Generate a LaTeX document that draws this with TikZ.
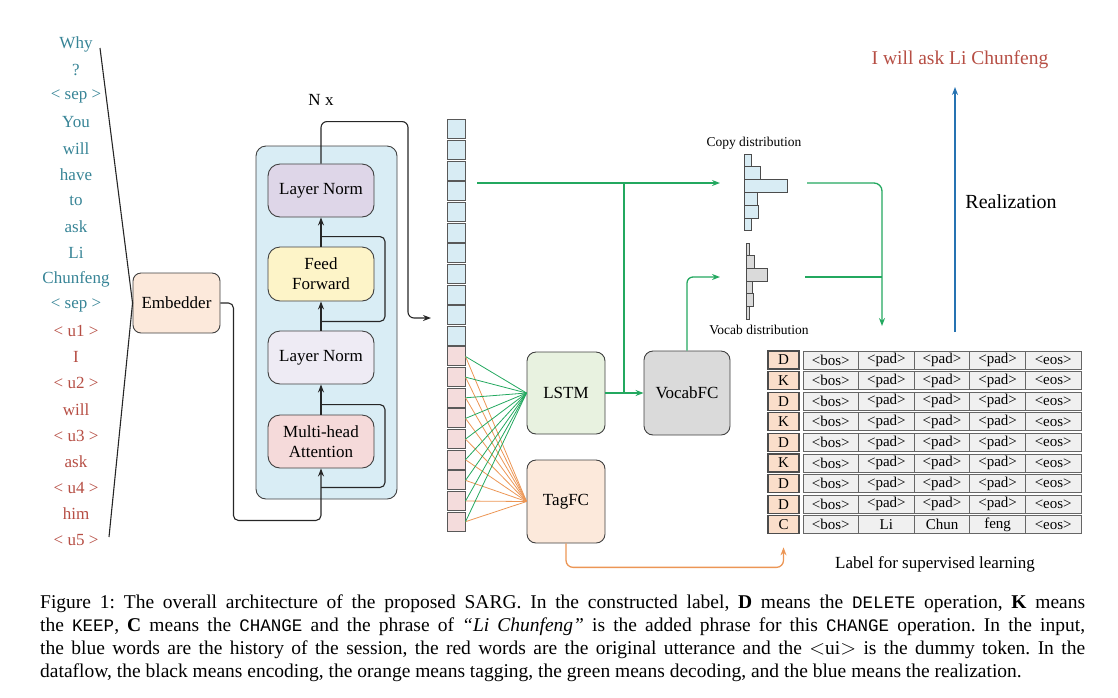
\documentclass[tikz,border=0pt]{standalone}
\usepackage{fontspec}
\setmainfont{Liberation Serif}
\setmonofont{Liberation Mono}[Scale=0.9]
\usepackage{xcolor}
\usepackage{tikz}
\usetikzlibrary{arrows.meta,positioning,calc}
\definecolor{histcol}{RGB}{55,132,150}
\definecolor{uttcol}{RGB}{182,78,68}
\definecolor{decgreen}{RGB}{35,168,95}
\definecolor{tagorange}{RGB}{236,150,85}
\definecolor{realblue}{RGB}{38,115,178}
\definecolor{embfill}{RGB}{252,233,219}
\definecolor{encfill}{RGB}{217,237,245}
\definecolor{lntopfill}{RGB}{222,214,232}
\definecolor{fffill}{RGB}{253,244,200}
\definecolor{lnfill}{RGB}{238,235,244}
\definecolor{mhafill}{RGB}{245,218,218}
\definecolor{lstmfill}{RGB}{232,242,224}
\definecolor{vocabfill}{RGB}{218,218,218}
\definecolor{cellblue}{RGB}{216,236,244}
\definecolor{cellpink}{RGB}{244,220,220}
\definecolor{labfill}{RGB}{250,222,202}
\definecolor{tokfill}{RGB}{240,240,240}
\newcommand{\fsz}[2]{\fontsize{#1}{#2}\selectfont}

\begin{document}
\frenchspacing
\begin{tikzpicture}[x=1pt, y=-1pt,
  font=\fsz{17}{20},
  box/.style={draw=black!75, line width=0.9pt, fill=#1, rounded corners=9pt, align=center, inner sep=2pt},
  box/.default=white,
  word/.style={inner sep=0pt},
  cell/.style={draw=black!65, line width=1pt, fill=#1, minimum width=18pt, minimum height=19pt, inner sep=0pt},
  labcell/.style={draw=black!70, line width=1.1pt, fill=labfill, minimum width=31pt, minimum height=18pt, inner sep=0pt, font=\fsz{15}{18}},
  tokcell/.style={draw=black!60, line width=1pt, fill=tokfill, minimum width=55.6pt, minimum height=18pt, inner sep=0pt, font=\fsz{15}{18}},
  bar/.style={draw=black!70, line width=0.9pt},
  enc/.style={black!85, line width=1.1pt},
  dec/.style={decgreen, line width=1.3pt},
  fan/.style={line width=0.8pt},
  tagline/.style={tagorange, line width=1.3pt},
  >={Stealth[length=8pt,width=6pt]}]
\useasboundingbox (0,0) rectangle (1118,697);

% input: history (blue) and utterance (red)
\foreach \w [count=\k] in {Why,?,< sep >,You,will,have,to,ask,Li,Chunfeng,< sep >}
  \node[word, text=histcol] (hw\k) at (76,17.9+26.1*\k) {\w};
\foreach \w [count=\k] in {< u1 >,I,< u2 >,will,< u3 >,ask,< u4 >,him,< u5 >}
  \node[word, text=uttcol] (uw\k) at (76,305+26.1*\k) {\w};

\node[box=embfill, rounded corners=8pt, minimum width=87pt, minimum height=60pt] (emb) at (176.5,303) {Embedder};
\coordinate (intop) at (100,48);
\coordinate (inbot) at (109,537);
\draw[enc] (intop) -- (emb.west);
\draw[enc] (inbot) -- (emb.west);

% encoder block
\node[box=encfill, rounded corners=10pt, minimum width=141pt, minimum height=353pt] (encblk) at (326.5,322.5) {};
\node (nx) at (321,100) {N x};
\node[box=mhafill, rounded corners=12pt, minimum width=106pt, minimum height=53pt] (mha) at (321,441.5) {Multi-head\\Attention};
\node[box=lnfill, rounded corners=12pt, minimum width=106pt, minimum height=53pt] (ln1) at (321,357.5) {Layer Norm};
\node[box=fffill, rounded corners=12pt, minimum width=106pt, minimum height=54pt] (ff) at (321,274) {Feed\\Forward};
\node[box=lntopfill, rounded corners=12pt, minimum width=106pt, minimum height=53pt] (lntop) at (321,190.5) {Layer Norm};
\draw[enc, ->] (mha) -- (ln1);
\draw[enc, ->] (ln1) -- (ff);
\draw[enc, ->] (ff) -- (lntop);
\draw[enc, ->, rounded corners=5pt] (emb.east) -- ++(13,0) |- ($(mha.south)+(0,52)$) -- (mha.south);
\draw[enc, rounded corners=5pt] ($(mha.south)+(0,19)$) -- ++(64,0) |- ($(mha.north)+(0,-10)$);
\draw[enc, rounded corners=5pt] ($(ff.south)+(0,20)$) -- ++(64,0) |- ($(ff.north)+(0,-10)$);
\coordinate (encout) at (431,318);
\draw[enc, ->, rounded corners=6pt] (lntop.north) -- ++(0,-42) -| ($(encout)+(-23,0)$) -- (encout);

% hidden states
\foreach \i in {1,...,11}
  \node[cell=cellblue] (v\i) at (456,108.675+20.65*\i) {};
\foreach \i in {12,...,20}
  \node[cell=cellpink] (v\i) at (456,108.675+20.65*\i) {};

\node[box=lstmfill, minimum width=78pt, minimum height=82pt] (lstm) at (566,393) {LSTM};
\node[box=embfill, minimum width=78pt, minimum height=83pt] (tag) at (566,501.5) {TagFC};
\node[box=vocabfill, minimum width=86pt, minimum height=84pt] (vocab) at (687,393) {VocabFC};

\foreach \i in {12,...,20} {
  \draw[fan, tagorange] (v\i.east) -- (tag.west);
  \draw[fan, decgreen] (v\i.east) -- (lstm.west);
}

% decoding
\coordinate (mem) at (477,183);
\coordinate (copyin) at (720,183);
\coordinate (vocabin) at (720,277);
\coordinate (jn) at (624,183);
\draw[dec, ->] (mem) -- (copyin);
\draw[dec, ->] (lstm) -- (vocab);
\draw[dec] (jn) -- (jn |- lstm.east);
\draw[dec, ->, rounded corners=6pt] (vocab.north) |- (vocabin);

% distributions
\foreach \w [count=\k] in {7,16,43,13,14,7}
  \draw[bar, fill=cellblue] (744,141.2+12.8*\k) rectangle ++(\w,12.8);
\foreach \w [count=\k] in {3,8,21,6,7,3}
  \draw[bar, fill=vocabfill] (746,230.3+12.7*\k) rectangle ++(\w,12.7);
\node[font=\fsz{13.5}{16}] (copylbl) at (754,143) {Copy distribution};
\node[font=\fsz{13.5}{16}] (vocablbl) at (759,330) {Vocab distribution};

\coordinate (copyout) at (807,183);
\coordinate (vocabout) at (805,277);
\coordinate (tabin) at (882,326);
\draw[dec, ->, rounded corners=8pt] (copyout) -| (tabin);
\draw[dec] (vocabout) -- (vocabout -| tabin);

% realization
\coordinate (realfrom) at (955,332);
\coordinate (realto) at (955,87);
\draw[realblue, line width=1.4pt, ->] (realfrom) -- (realto);
\node[font=\fsz{20}{24}] (reallbl) at (1011,202) {Realization};
\node[font=\fsz{19.5}{23}, text=uttcol] (result) at (960,60) {I will ask Li Chunfeng};

% label table
\foreach \lab [count=\r] in {D,K,D,K,D,K,D,D,C}
  \node[labcell] (lab\r) at (783.5,339.4+20.6*\r) {\lab};
\foreach \r in {1,...,8}
  \foreach \t [count=\c] in {<bos>,<pad>,<pad>,<pad>,<eos>}
    \node[tokcell] (t\r-\c) at (775.2+55.6*\c,339.4+20.6*\r) {\t};
\foreach \t [count=\c] in {<bos>,Li,Chun,feng,<eos>}
  \node[tokcell] (t9-\c) at (775.2+55.6*\c,524.8) {\t};
\node (tablbl) at (935,564) {Label for supervised learning};
\draw[tagline, ->, rounded corners=7pt] (tag.south) |- ($(lab9.south)+(0,33)$) -- ($(lab9.south)+(0,13)$);

% caption
\node[anchor=north west, text width=1045pt, align=justify, inner sep=0pt, font=\fsz{19.5}{23}] (caption) at (40,595) {Figure 1: The overall architecture of the proposed SARG. In the constructed label, \textbf{D} means the \texttt{DELETE} operation, \textbf{K} means\linebreak
the \texttt{KEEP}, \textbf{C} means the \texttt{CHANGE} and the phrase of \textit{“Li Chunfeng”} is the added phrase for this \texttt{CHANGE} operation. In the input,\linebreak
the blue words are the history of the session, the red words are the original utterance and the $<$ui$>$ is the dummy token. In the\linebreak
dataflow, the black means encoding, the orange means tagging, the green means decoding, and the blue means the realization.};
\end{tikzpicture}
\end{document}
